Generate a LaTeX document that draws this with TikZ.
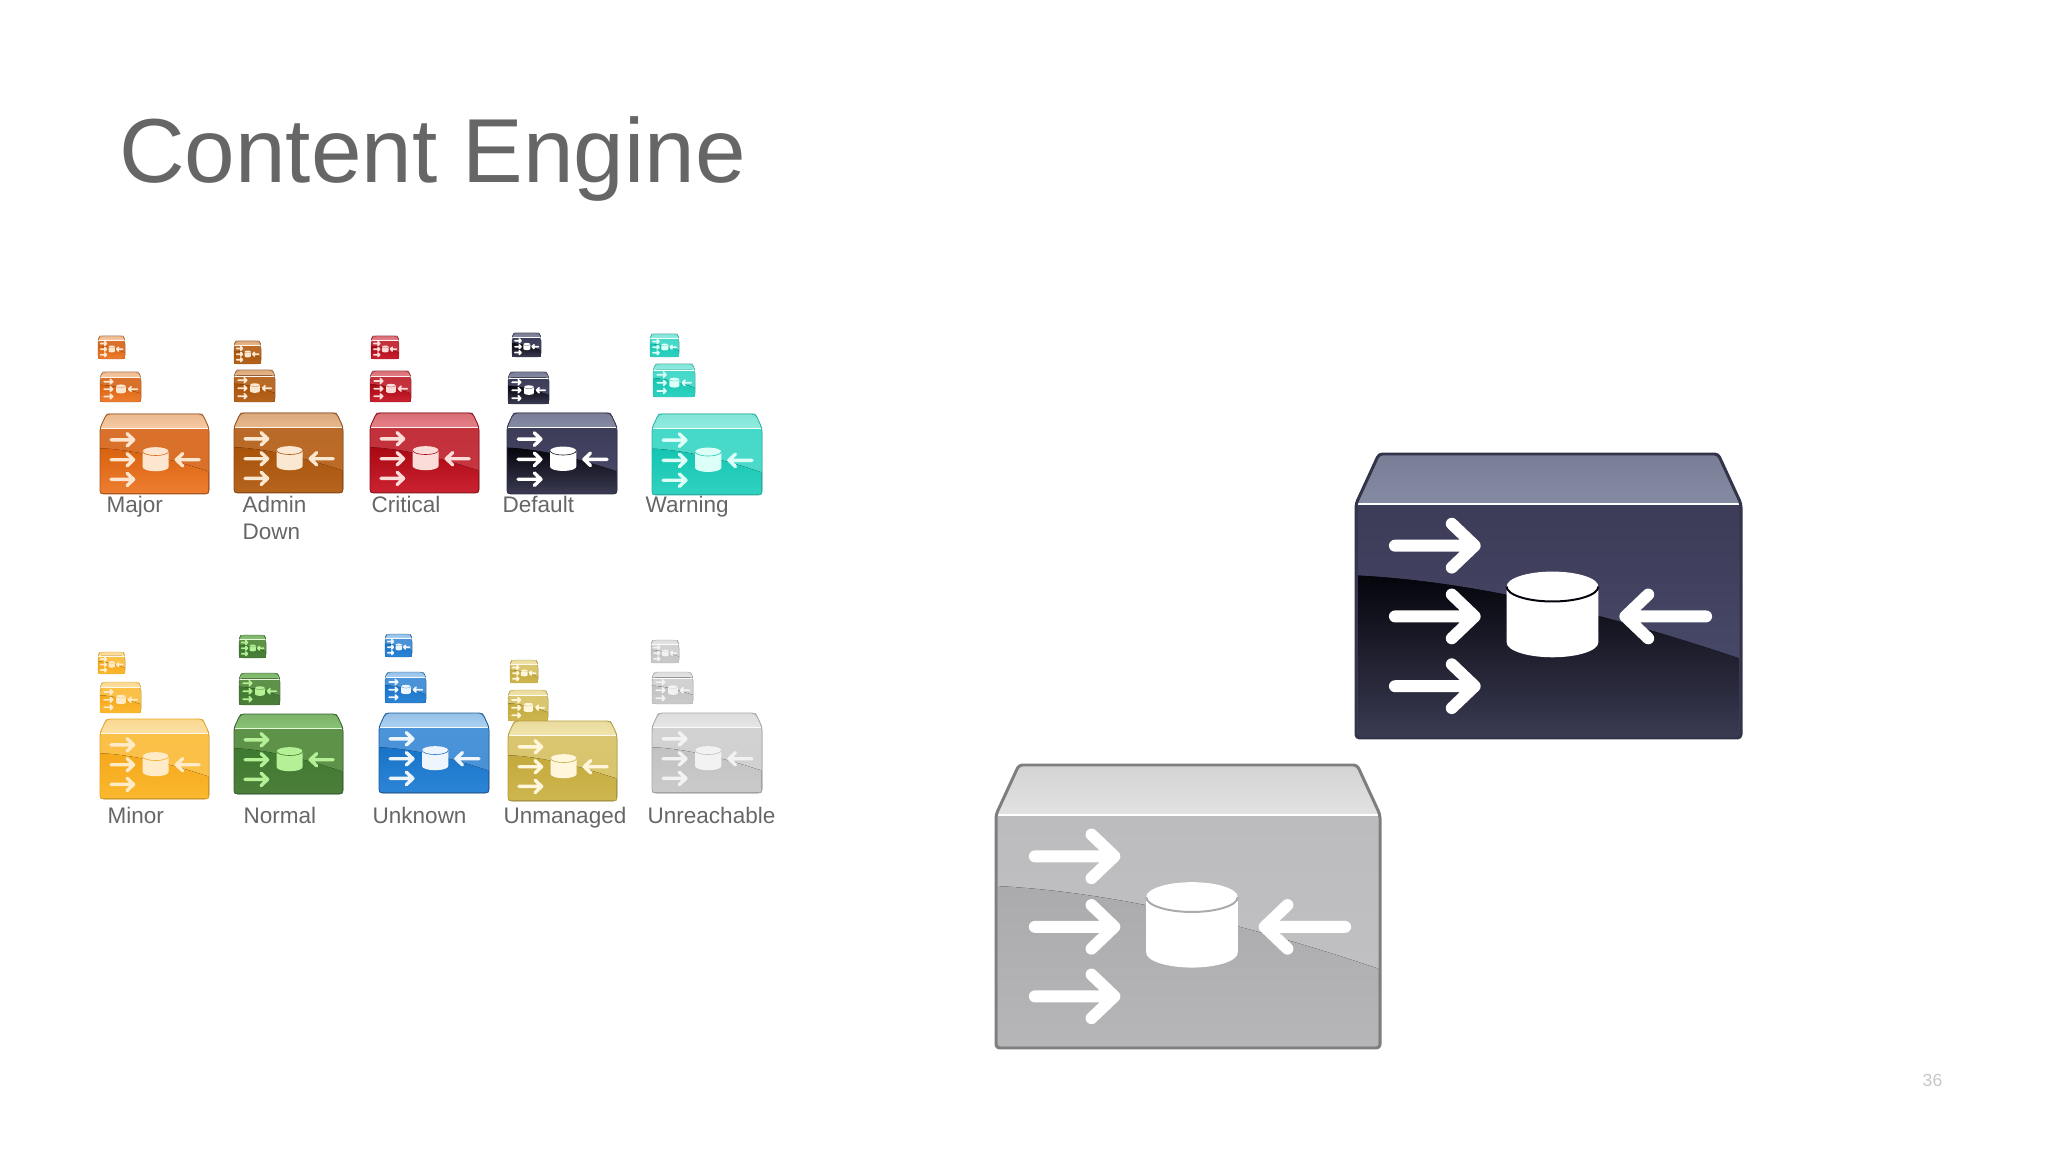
\documentclass[tikz,border=0pt]{standalone}
\usepackage{fontspec}
\setmainfont{Liberation Sans}
\usepackage{tikz}

% name, line, top, upper a, upper b, lower a, lower b, glyph
\newcommand{\enginecolors}[8]{%
  \definecolor{#1Line}{HTML}{#2}%
  \definecolor{#1Top}{HTML}{#3}%
  \definecolor{#1UpA}{HTML}{#4}%
  \definecolor{#1UpB}{HTML}{#5}%
  \definecolor{#1LowA}{HTML}{#6}%
  \definecolor{#1LowB}{HTML}{#7}%
  \definecolor{#1Glyph}{HTML}{#8}%
}
\enginecolors{Major}{A9561F}{F7CBA4}{D9712C}{DC7028}{D8620F}{EE7E30}{FCE6D0}
\enginecolors{Admin}{8F4B16}{E8B88C}{B96A28}{BE6C24}{A9530A}{B5641E}{FBE8D2}
\enginecolors{Critical}{8F1018}{E57F87}{C2303A}{C83844}{A80812}{CC2232}{FBDCD8}
\enginecolors{Default}{33334A}{858BA3}{3C3C58}{4C4C6E}{05050C}{3A3A52}{FFFFFF}
\enginecolors{Warning}{2CB8A8}{90ECDF}{45D8C8}{50DCCC}{14C6B2}{30D2C0}{DCFFF8}
\enginecolors{Minor}{E6A825}{FDE0A4}{FBC046}{FAC04A}{F5A81C}{FBB82E}{FFEBC8}
\enginecolors{Normal}{3A6030}{88C274}{5E9249}{5E9249}{3E7A30}{4C7E3A}{B4F096}
\enginecolors{Unknown}{1C5C9C}{AAD2F2}{4C94DA}{4890D6}{1874C8}{2C84D6}{EEF5FC}
\enginecolors{Unmanaged}{B8A040}{F1E5AC}{DAC670}{D8C468}{C4AA3C}{CEB650}{FFF6DC}
\enginecolors{Unreachable}{A8A8A8}{E6E6E6}{D2D2D2}{D0D0D0}{C2C2C2}{CACACA}{F2F2F2}
\enginecolors{Disabled}{7E7E7E}{E2E2E2}{BCBCBE}{C2C2C4}{ABABAD}{B6B6B8}{FFFFFF}

% x, y, width, height, colours
\newcommand{\engine}[5]{%
  \pgfmathsetmacro{\enginew}{#3/386}%
  \pgfmathsetmacro{\engineglyph}{max(\enginew*3.4,0.5)}%
  \begin{scope}[shift={(#1,#2)},xscale=#3/386,yscale=#4/285]
    \fill [top color=#5Top!85!#5Line,bottom color=#5Top] (23,0) -- (363,0) -- (386,50) -- (0,50) -- cycle;
    \fill [rounded corners=1pt,top color=#5UpA,bottom color=#5UpB] (0,50) -- (386,50) -- (386,285) -- (0,285) -- cycle;
    \fill [top color=#5LowA,bottom color=#5LowB] (2,122) .. controls (120,128) and (250,160) .. (384,205) -- (384,283) -- (2,283) -- cycle;
    \draw [#5Glyph!40,line width=\enginew*0.02cm] (2,50) -- (384,50);
    \draw [#5Line,line width=\enginew*0.03cm,line join=round,rounded corners=1pt] (23,0) -- (363,0) -- (386,50) -- (386,285) -- (0,285) -- (0,50) -- cycle;
    \begin{scope}[#5Glyph,line width=\engineglyph pt,line cap=round,line join=round]
      \draw (39,92) -- (119,92) (96,70) -- (119,92) -- (96,114);
      \draw (39,163) -- (119,163) (96,141) -- (119,163) -- (96,185);
      \draw (39,233) -- (119,233) (96,211) -- (119,233) -- (96,255);
      \draw (351,163) -- (270,163) (293,141) -- (270,163) -- (293,185);
    \end{scope}
    \fill [#5Glyph] (151,133) arc [start angle=180,end angle=360,x radius=46,y radius=15] -- (243,189) arc [start angle=0,end angle=180,x radius=46,y radius=15] -- cycle;
    \draw [#5LowA,line width=\enginew*0.02cm] (151,133) arc [start angle=180,end angle=0,x radius=46,y radius=15];
  \end{scope}
}

\begin{document}
\begin{tikzpicture}
    [
    x=0.01cm,y=-0.01cm,
    title/.style={anchor=base west,inner sep=0pt,text=black!60,font=\fontsize{25.85pt}{30pt}\selectfont},
    caption/.style={anchor=base west,inner sep=0pt,text=black!60,font=\fontsize{6.4pt}{7.7pt}\selectfont,align=left},
    pageno/.style={anchor=base west,inner sep=0pt,text=black!22,font=\fontsize{5pt}{6pt}\selectfont},
    ]
    \useasboundingbox [fill=white] (0,0) rectangle (2048,1152);

    \node (title) at (118.5,183) [title] {Content Engine};
    \node (pageno) at (1922,1086) [pageno] {36};

    \engine{98}{336}{27}{23}{Major}
    \engine{100}{372}{41}{30}{Major}
    \engine{100}{414}{109}{80}{Major}
    \node (major) at (106,512) [caption] {Major};

    \engine{234}{341}{27}{23}{Admin}
    \engine{234}{370}{41}{32}{Admin}
    \engine{234}{413}{109}{80}{Admin}
    \node (admin) at (242,512) [caption] {Admin};
    \node (down) at (242,539.5) [caption] {Down};

    \engine{371}{336}{28}{23}{Critical}
    \engine{370}{371}{41}{31}{Critical}
    \engine{370}{413}{109}{80}{Critical}
    \node (critical) at (371,512) [caption] {Critical};

    \engine{512}{333}{29}{24}{Default}
    \engine{508}{372}{41}{32}{Default}
    \engine{507}{413}{110}{81}{Default}
    \node (default) at (502,512) [caption] {Default};

    \engine{650}{334}{29}{23}{Warning}
    \engine{653}{364}{42}{33}{Warning}
    \engine{652}{414}{110}{81}{Warning}
    \node (warning) at (645,512) [caption] {Warning};

    \engine{98}{652}{27}{22}{Minor}
    \engine{100}{682}{41}{31}{Minor}
    \engine{100}{719}{109}{80}{Minor}
    \node (minor) at (107,823.5) [caption] {Minor};

    \engine{239}{635}{27}{23}{Normal}
    \engine{239}{673}{41}{32}{Normal}
    \engine{234}{714}{109}{80}{Normal}
    \node (normal) at (243,823.5) [caption] {Normal};

    \engine{385}{634}{27}{23}{Unknown}
    \engine{385}{672}{41}{31}{Unknown}
    \engine{379}{713}{110}{80}{Unknown}
    \node (unknown) at (372,823.5) [caption] {Unknown};

    \engine{510}{660}{28}{23}{Unmanaged}
    \engine{508}{690}{40}{31}{Unmanaged}
    \engine{508}{721}{109}{80}{Unmanaged}
    \node (unmanaged) at (503,823.5) [caption] {Unmanaged};

    \engine{651}{640}{28}{23}{Unreachable}
    \engine{652}{672}{41}{32}{Unreachable}
    \engine{652}{713}{110}{80}{Unreachable}
    \node (unreachable) at (647,823.5) [caption] {Unreachable};

    \engine{1356}{454}{385}{284}{Default}
    \engine{996}{765}{384}{283}{Disabled}
  \end{tikzpicture}
\end{document}
